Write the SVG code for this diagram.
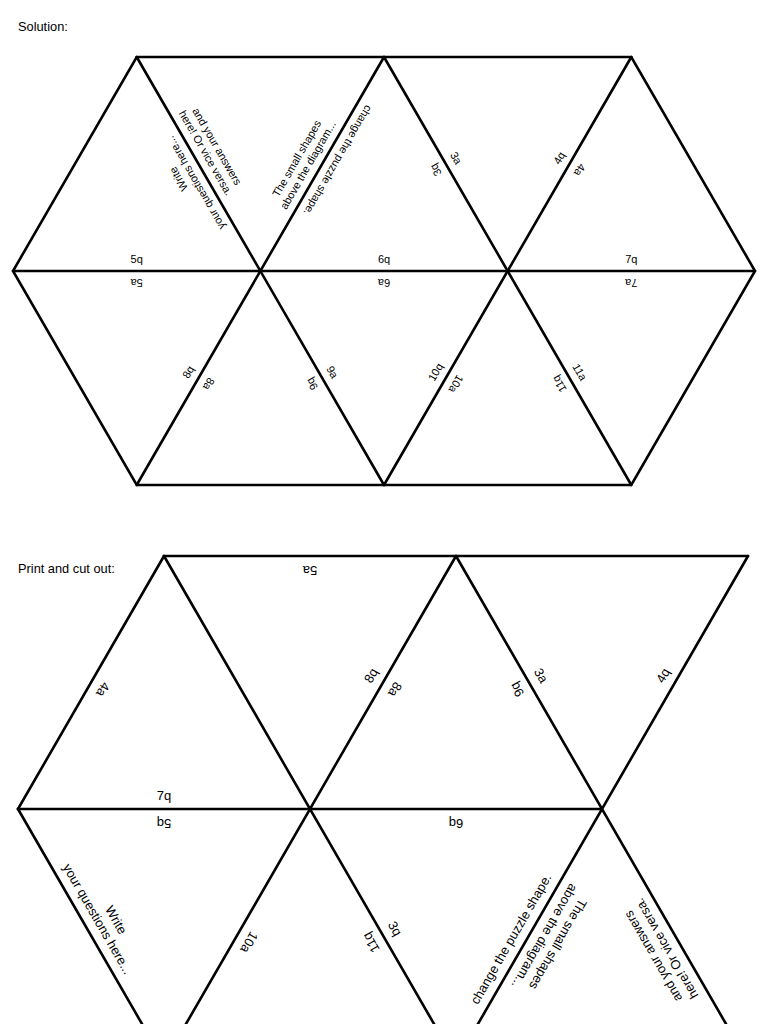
<svg xmlns="http://www.w3.org/2000/svg" width="768" height="1024" viewBox="0 0 768 1024">
<style>
.e{stroke:#000;stroke-width:2.6;fill:none;stroke-linecap:round;stroke-linejoin:miter}
text{font-family:"Liberation Sans",Arial,sans-serif;fill:#000;text-anchor:middle}
.s text{font-size:11px}
.c text{font-size:13px}
text.h{font-size:12.8px;text-anchor:start}
</style>
<rect width="768" height="1024" fill="#fff"/>
<text class="h" x="18" y="31">Solution:</text>
<text class="h" x="18" y="573">Print and cut out:</text>

<g id="solution-lines" class="e">
<polygon points="136.7,57 631.3,57 755,271 631.3,485 136.7,485 13,271"/>
<line x1="13" y1="271" x2="755" y2="271"/>
<line x1="136.7" y1="57" x2="384" y2="485"/>
<line x1="384" y1="57" x2="136.7" y2="485"/>
<line x1="384" y1="57" x2="631.3" y2="485"/>
<line x1="631.3" y1="57" x2="384" y2="485"/>
</g>

<g class="s">
<g id="s1">
<text transform="translate(136.7,271)" y="-8">5q</text>
<g transform="translate(198.5,164) rotate(-120)"><text x="-3" y="-21">Write</text><text x="-15" y="-8">your questions here...</text></g>
</g>
<g id="s2">
<g transform="translate(198.5,164) rotate(60)"><text x="-6" y="-21">and your answers</text><text x="-6" y="-8">here! Or vice versa.</text></g>
<g transform="translate(322.2,164) rotate(-60)"><text x="-8" y="-21">The small shapes</text><text x="-8" y="-8">above the diagram...</text></g>
</g>
<g id="s3">
<text transform="translate(322.2,164) rotate(120)" x="-11" y="-8">change the puzzle shape.</text>
<text transform="translate(384,271)" y="-8">6q</text>
<text transform="translate(445.8,164) rotate(-120)" y="-8">3q</text>
</g>
<g id="s4">
<text transform="translate(445.8,164) rotate(60)" y="-8">3a</text>
<text transform="translate(569.5,164) rotate(-60)" y="-8">4q</text>
</g>
<g id="s5">
<text transform="translate(569.5,164) rotate(120)" y="-8">4a</text>
<text transform="translate(631.3,271)" y="-8">7q</text>
</g>
<g id="s6">
<text transform="translate(136.7,271) rotate(180)" y="-8">5a</text>
<text transform="translate(198.5,378) rotate(-60)" y="-8">8q</text>
</g>
<g id="s7">
<text transform="translate(198.5,378) rotate(120)" y="-8">8a</text>
<text transform="translate(322.2,378) rotate(-120)" y="-8">9q</text>
</g>
<g id="s8">
<text transform="translate(384,271) rotate(180)" y="-8">6a</text>
<text transform="translate(322.2,378) rotate(60)" y="-8">9a</text>
<text transform="translate(445.8,378) rotate(-60)" y="-8">10q</text>
</g>
<g id="s9">
<text transform="translate(445.8,378) rotate(120)" y="-8">10a</text>
<text transform="translate(569.5,378) rotate(-120)" y="-8">11q</text>
</g>
<g id="s10">
<text transform="translate(631.3,271) rotate(180)" y="-8">7a</text>
<text transform="translate(569.5,378) rotate(60)" y="-8">11a</text>
</g>
</g>

<g id="cutout-lines" class="e">
<line x1="164" y1="556" x2="748" y2="556"/>
<line x1="18" y1="809" x2="602" y2="809"/>
<line x1="18" y1="809" x2="164" y2="556"/>
<line x1="164" y1="556" x2="456" y2="1062"/>
<line x1="456" y1="556" x2="164" y2="1062"/>
<line x1="456" y1="556" x2="748" y2="1062"/>
<line x1="748" y1="556" x2="456" y2="1062"/>
<line x1="18" y1="809" x2="164" y2="1062"/>
</g>

<g class="c">
<g id="c1">
<text transform="translate(91,682.5) rotate(120)" y="-9.5">4a</text>
<text transform="translate(164,809)" y="-9.5">7q</text>
</g>
<g id="c2">
<text transform="translate(310,556) rotate(180)" y="-9.5">5a</text>
<text transform="translate(383,682.5) rotate(-60)" y="-9.5">8q</text>
</g>
<g id="c3">
<text transform="translate(383,682.5) rotate(120)" y="-9.5">8a</text>
<text transform="translate(529,682.5) rotate(-120)" y="-9.5">9q</text>
</g>
<g id="c4">
<text transform="translate(529,682.5) rotate(60)" y="-9.5">3a</text>
<text transform="translate(675,682.5) rotate(-60)" y="-9.5">4q</text>
</g>
<g id="c5">
<text transform="translate(164,809) rotate(180)" y="-9.5">5q</text>
<g transform="translate(91,935.5) rotate(60)"><text x="-1" y="-25">Write</text><text x="-11" y="-9.5">your questions here...</text></g>
</g>
<g id="c6">
<text transform="translate(237,935.5) rotate(120)" y="-9.5">10a</text>
<text transform="translate(383,935.5) rotate(-120)" y="-9.5">11q</text>
</g>
<g id="c7">
<text transform="translate(456,809) rotate(180)" y="-9.5">6q</text>
<text transform="translate(383,935.5) rotate(60)" y="-9.5">3q</text>
<text transform="translate(529,935.5) rotate(-60)" x="-12" y="-9.5">change the puzzle shape.</text>
</g>
<g id="c8">
<g transform="translate(529,935.5) rotate(120)"><text x="-7" y="-25">The small shapes</text><text x="-7" y="-9.5">above the diagram...</text></g>
<g transform="translate(675,935.5) rotate(-120)"><text x="-7" y="-25">and your answers</text><text x="-7" y="-9.5">here! Or vice versa.</text></g>
</g>
</g>
</svg>
